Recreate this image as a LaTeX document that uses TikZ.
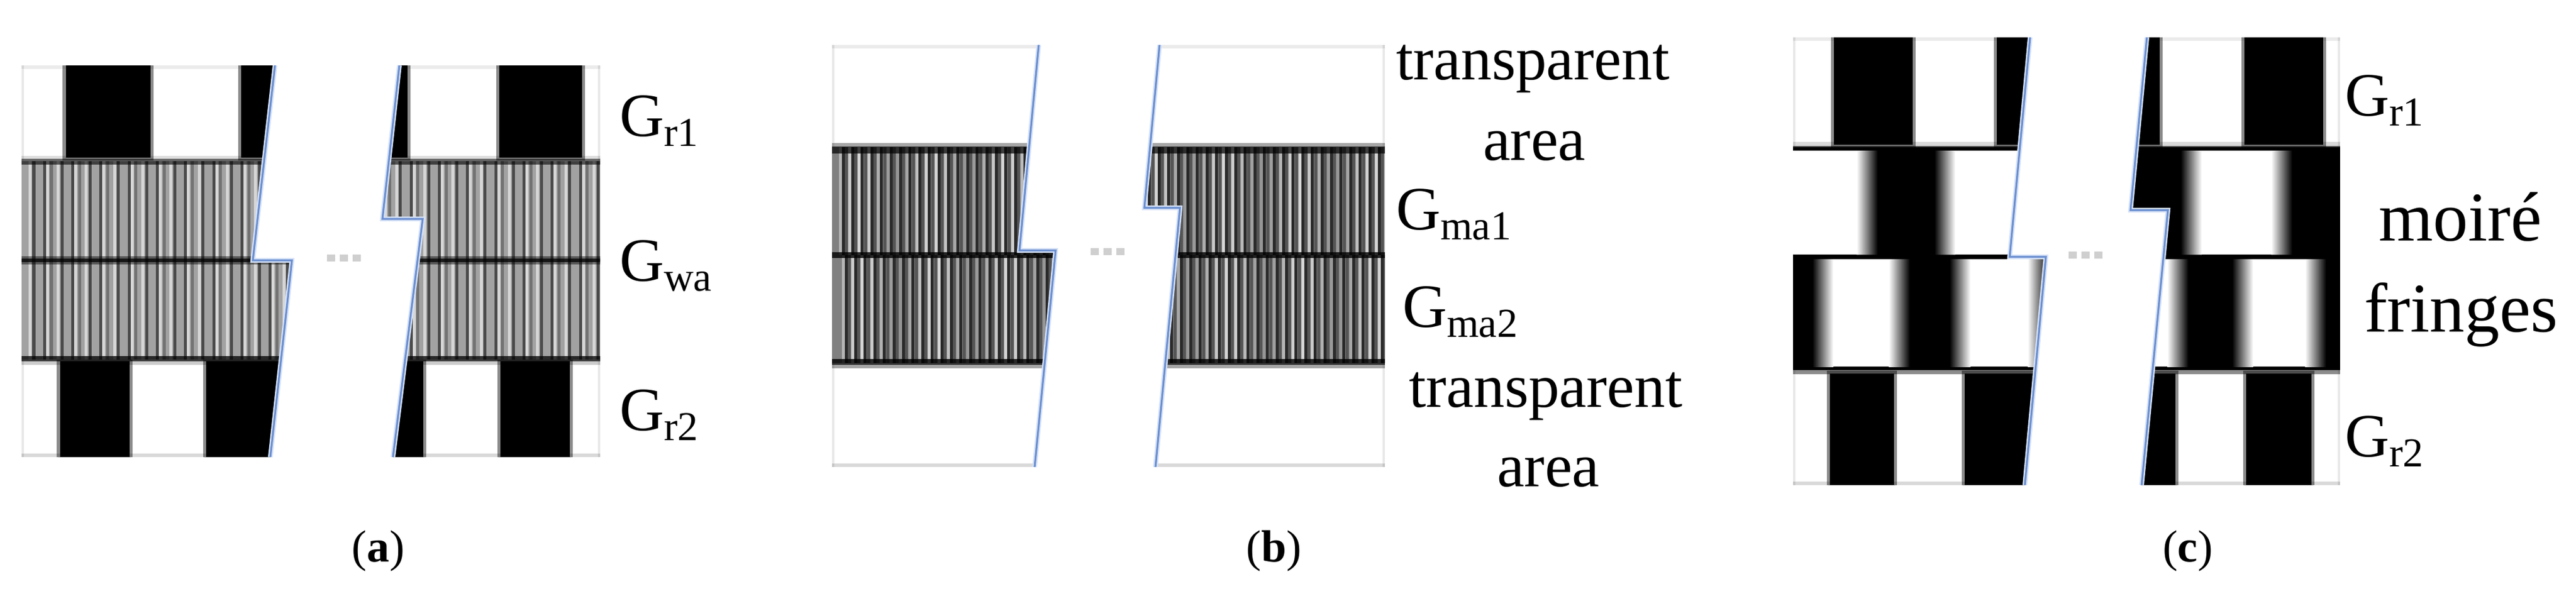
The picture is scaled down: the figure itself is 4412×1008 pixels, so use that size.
\documentclass[tikz,border=0pt]{standalone}
\usepackage{fontspec}
\setmainfont{Liberation Serif}
\usetikzlibrary{calc}
\definecolor{edgeblue}{HTML}{6A8ED0}
\definecolor{haloblue}{HTML}{D6E2F7}
\definecolor{frameg}{HTML}{E8E8E8}
\definecolor{baseA}{HTML}{A2A2A2}
\definecolor{baseB}{HTML}{808080}
\definecolor{darkA}{HTML}{4A4A4A}
\definecolor{darkB}{HTML}{2A2A2A}
\definecolor{midA}{HTML}{727272}
\definecolor{midB}{HTML}{555555}
\definecolor{lightA}{HTML}{D6D6D6}
\definecolor{lightB}{HTML}{DADADA}
\definecolor{dotg}{HTML}{CFCFCF}
\tikzset{
  lineB/.style={line width=0.032cm, draw=edgeblue, line join=miter},
  haloB/.style={line width=0.08cm, draw=haloblue, line join=miter},
  barK/.style={fill=black, draw=black!45, line width=0.05cm},
  lab/.style={inner sep=0pt, outer sep=0pt, anchor=base west, font=\fontsize{30}{30}\selectfont},
  labc/.style={lab, anchor=base, font=\fontsize{34}{34}\selectfont},
  capt/.style={inner sep=0pt, outer sep=0pt, anchor=base, font=\fontsize{22}{22}\selectfont},
  stA/.style={line width=0.05cm, draw=#1},
  stA/.default=darkA
}
\newcommand{\Gsub}[1]{G\raisebox{-0.17em}{\fontsize{20}{20}\selectfont #1}}
% white frame of one panel: x0,y0,x1,y1
\newcommand{\frameP}[4]{%
  \fill[white] (#1,#2) rectangle (#3,#4);
  \fill[frameg] (#1,#2) rectangle (#1+4,#4);
  \fill[frameg] (#3-4,#2) rectangle (#3,#4);
}
% top and bottom strips go over the bars
\newcommand{\stripP}[4]{%
  \fill[black,opacity=.08] (#1,#2) rectangle (#3,#2+6);
  \fill[black,opacity=.15] (#1,#4-6) rectangle (#3,#4);
}
% grating of panel a: two lines per period
\newcommand{\bandA}[4]{%
  \fill[baseA] (#1,#3) rectangle (1028,#4);
  \foreach \k in {0,...,20} {
    \draw[stA] ({#2+48.3*\k},#3) -- ({#2+48.3*\k},#4);
    \draw[stA] ({#2+18.3+48.3*\k},#3) -- ({#2+18.3+48.3*\k},#4);
    \draw[stA=midA] ({#2+30+48.3*\k},#3) -- ({#2+30+48.3*\k},#4);
    \draw[stA=lightA] ({#2-6.7+48.3*\k},#3) -- ({#2-6.7+48.3*\k},#4);
    \draw[stA=lightA] ({#2+23.3+48.3*\k},#3) -- ({#2+23.3+48.3*\k},#4);
  }
}
% grating of panel b
\newcommand{\bandB}[4]{%
  \fill[baseB] (#1,#3) rectangle (2372,#4);
  \foreach \k [evaluate=\k as \t using {int(60+35*sin(\k*47))}] in {0,...,58} {
    \draw[stA=midB] ({#2+5.5+16.4*\k},#3) -- ({#2+5.5+16.4*\k},#4);
    \draw[stA=darkB] ({#2+16.4*\k},#3) -- ({#2+16.4*\k},#4);
    \draw[stA=lightB!\t!baseB] ({#2-5+16.4*\k},#3) -- ({#2-5+16.4*\k},#4);
  }
}
% blurred white cell of a moire fringe
\newcommand{\fringeC}[4]{%
  \shade[left color=black,right color=white] (#1-18,#3) rectangle (#1+18,#4);
  \fill[white] (#1+18,#3) rectangle (#2-18,#4);
  \shade[left color=white,right color=black] (#2-18,#3) rectangle (#2+18,#4);
}
\newcommand{\dotsR}[2]{%
  \foreach \i in {0,1,2} \fill[dotg] ({#1+\i*22},#2-6) rectangle ++(14,12);
}
\newcommand{\panelA}{%
  \frameP{37}{112}{1028}{783}
  \foreach \xa/\xb in {110/260,410/700,852/999} \filldraw[barK] (\xa,90) rectangle (\xb,272);
  \foreach \xa/\xb in {100/224,350/727,854/978} \filldraw[barK] (\xa,616) rectangle (\xb,800);
  \fill[black,opacity=.13] (37,267) rectangle (1028,272);
  \fill[black,opacity=.2] (37,618) rectangle (1028,625);
  \bandA{37}{58}{276}{446}
  \bandA{37}{58}{446}{616}
  \fill[black,opacity=.6] (37,272) rectangle (1028,282);
  \fill[black,opacity=.45] (37,439) rectangle (1028,453);
  \fill[black,opacity=.75] (37,443) rectangle (1028,449);
  \fill[black,opacity=.75] (37,610) rectangle (1028,619);
  \stripP{37}{112}{1028}{783}
}
\newcommand{\panelB}{%
  \frameP{1425}{77}{2372}{800}
  \fill[black,opacity=.35] (1425,245) rectangle (2372,252);
  \bandB{1425}{1444}{252}{437}
  \bandB{1425}{1449}{437}{622}
  \fill[black,opacity=.7] (1425,251) rectangle (2372,263);
  \fill[black,opacity=.8] (1425,432) rectangle (2372,442);
  \fill[black,opacity=.8] (1425,615) rectangle (2372,625);
  \fill[black,opacity=.35] (1425,625) rectangle (2372,631);
  \stripP{1425}{77}{2372}{800}
}
\newcommand{\panelC}{%
  \frameP{3071}{64}{4008}{831}
  \foreach \xa/\xb in {3138/3278,3417/3701,3841/3981} \filldraw[barK] (\xa,40) rectangle (\xb,250);
  \foreach \xa/\xb in {3131/3246,3362/3728,3844/3961} \filldraw[barK] (\xa,637) rectangle (\xb,850);
  \fill[black,opacity=.15] (3071,243) rectangle (4008,250);
  \fill[black] (3071,252) rectangle (4008,634);
  \fringeC{3020}{3198}{258}{436}
  \fringeC{3331}{3520}{258}{436}
  \fringeC{3753}{3908}{258}{436}
  \fringeC{3122}{3253}{444}{628}
  \fringeC{3357}{3491}{444}{628}
  \fringeC{3600}{3730}{444}{628}
  \fringeC{3841}{3966}{444}{628}
  \fill[black,opacity=.65] (3071,250) rectangle (4008,258);
  \fill[black,opacity=.65] (3071,436) rectangle (4008,444);
  \fill[black,opacity=.45] (3071,634) rectangle (4008,641);
  \stripP{3071}{64}{4008}{831}
}

\begin{document}
\begin{tikzpicture}[x=0.01cm,y=-0.01cm]
  \useasboundingbox (0,0) rectangle (4412,1008);

  % panel a
  \begin{scope}
    \clip (37,112) -- (471,112) -- (433,446) -- (500,446) -- (463,783) -- (37,783) -- cycle;
    \panelA
  \end{scope}
  \begin{scope}
    \clip (684,112) -- (1028,112) -- (1028,783) -- (673,783) -- (724,375) -- (655,375) -- cycle;
    \panelA
  \end{scope}
  \draw[haloB] (471,112) -- (433,446) -- (500,446) -- (463,783);
  \draw[lineB] (471,112) -- (433,446) -- (500,446) -- (463,783);
  \draw[haloB] (684,112) -- (655,375) -- (724,375) -- (673,783);
  \draw[lineB] (684,112) -- (655,375) -- (724,375) -- (673,783);
  \dotsR{560}{442}

  \node[lab] (gr1a) at (1061,233) {\Gsub{r1}};
  \node[lab] (gwa) at (1061,481) {\Gsub{wa}};
  \node[lab] (gr2a) at (1061,737) {\Gsub{r2}};
  \node[capt] (capa) at (648,962) {(\textbf{a})};

  % panel b
  \begin{scope}
    \clip (1425,77) -- (1779,77) -- (1746,429) -- (1808,429) -- (1772,800) -- (1425,800) -- cycle;
    \panelB
  \end{scope}
  \begin{scope}
    \clip (1986,77) -- (2372,77) -- (2372,800) -- (1979,800) -- (2021,356) -- (1960,356) -- cycle;
    \panelB
  \end{scope}
  \draw[haloB] (1779,77) -- (1746,429) -- (1808,429) -- (1772,800);
  \draw[lineB] (1779,77) -- (1746,429) -- (1808,429) -- (1772,800);
  \draw[haloB] (1986,77) -- (1960,356) -- (2021,356) -- (1979,800);
  \draw[lineB] (1986,77) -- (1960,356) -- (2021,356) -- (1979,800);
  \dotsR{1868}{431}

  \node[lab] (tr1) at (2391,136) {transparent};
  \node[lab] (ar1) at (2540,274) {area};
  \node[lab] (gma1) at (2391,393) {\Gsub{ma1}};
  \node[lab] (gma2) at (2402,560) {\Gsub{ma2}};
  \node[lab] (tr2) at (2413,697) {transparent};
  \node[lab] (ar2) at (2564,833) {area};
  \node[capt] (capb) at (2182,962) {(\textbf{b})};

  % panel c
  \begin{scope}
    \clip (3071,64) -- (3477,64) -- (3442,440) -- (3504,440) -- (3468,831) -- (3071,831) -- cycle;
    \panelC
  \end{scope}
  \begin{scope}
    \clip (3677,64) -- (4008,64) -- (4008,831) -- (3668,831) -- (3713,360) -- (3649,360) -- cycle;
    \panelC
  \end{scope}
  \draw[haloB] (3477,64) -- (3442,440) -- (3504,440) -- (3468,831);
  \draw[lineB] (3477,64) -- (3442,440) -- (3504,440) -- (3468,831);
  \draw[haloB] (3677,64) -- (3649,360) -- (3713,360) -- (3668,831);
  \draw[lineB] (3677,64) -- (3649,360) -- (3713,360) -- (3668,831);
  \dotsR{3543}{437}

  \node[lab] (gr1c) at (4016,198) {\Gsub{r1}};
  \node[labc] (moire) at (4214,412) {moiré};
  \node[labc] (fringes) at (4215,568) {fringes};
  \node[lab] (gr2c) at (4016,782) {\Gsub{r2}};
  \node[capt] (capc) at (3747,962) {(\textbf{c})};
\end{tikzpicture}
\end{document}
